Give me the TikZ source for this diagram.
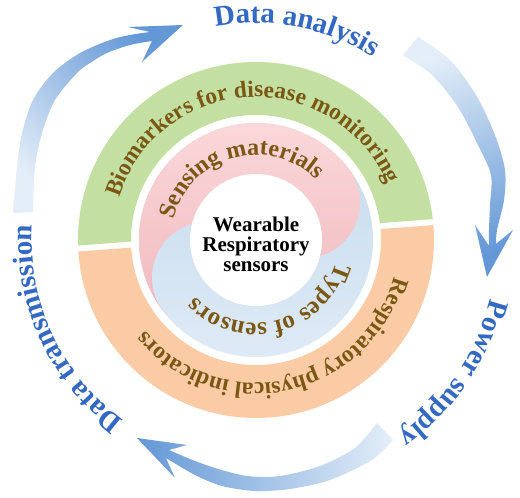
\documentclass[tikz,border=0pt]{standalone}
\usepackage{fontspec}
\setmainfont{Liberation Serif}
\usetikzlibrary{decorations.text}
\definecolor{ringgreen}{HTML}{C4DFA2}
\definecolor{ringorange}{HTML}{FBCBA6}
\definecolor{pinkA}{HTML}{FBDADC}
\definecolor{pinkB}{HTML}{F0BAC0}
\definecolor{blueA}{HTML}{C4DAEE}
\definecolor{blueB}{HTML}{DEEAF6}
\definecolor{labelbrown}{HTML}{7A5814}
\definecolor{labelblue}{HTML}{3469C3}
\definecolor{arrowdark}{HTML}{6397D6}
\definecolor{arrowlight}{HTML}{E4EEF8}
\begin{document}
\begin{tikzpicture}[x=1pt,y=1pt,
  arrowshape/.style={shading=axis, top color=arrowdark, bottom color=arrowlight, draw=none},
  ringtext/.style={decorate, decoration={text along path, text align=center}},
]
\useasboundingbox (0,0) rectangle (520,498);
\fill[white] (0,0) rectangle (520,498);

% ---------- curved arrows ----------
\shade[arrowshape, shading angle=-42] (33,286) -- (13,285) -- plot[smooth] coordinates {(13,285) (17,331) (22,365) (33,398) (53,425) (80,445) (110,458) (130,463) (150,466)} -- (128,471) -- (183,473) -- (142,436) -- (152,457) -- plot[smooth] coordinates {(152,457) (130,453) (107,445) (90,435) (77,425) (55,398) (42,365) (35,331) (33,286)} -- cycle;

\shade[arrowshape, shading angle=-160] (403,443) -- (418,461) -- plot[smooth] coordinates {(418,461) (450,438) (476,403) (495,363) (505,328) (504,298) (497,268) (496,254)} -- (513,268) -- (487,221) -- (475,273) -- (489,252) -- plot[smooth] coordinates {(489,252) (489,268) (490,293) (491,323) (478,353) (458,391) (432,423) (403,443)} -- cycle;

\shade[arrowshape, shading angle=90] (377,75) -- (393,58) -- plot[smooth] coordinates {(393,58) (372,38) (330,18) (290,9) (255,7) (222,12) (195,23) (166,40)} -- (175,20) -- (137,60) -- (187,53) -- (169,48) -- plot[smooth] coordinates {(169,48) (190,39) (215,30) (247,22) (280,22) (320,32) (355,50) (377,75)} -- cycle;

\begin{scope}[shift={(256,258)}]
  % ---------- outer ring ----------
  \begin{scope}
    \clip (-200,-7.16) -- (200,22.56) -- (200,200) -- (-200,200) -- cycle;
    \fill[ringgreen, even odd rule] (0,0) circle[radius=178] (0,0) circle[radius=125];
  \end{scope}
  \begin{scope}
    \clip (-200,-13.16) -- (200,16.56) -- (200,-200) -- (-200,-200) -- cycle;
    \fill[ringorange, even odd rule] (0,0) circle[radius=178] (0,0) circle[radius=125];
  \end{scope}
  % ---------- inner swirl ring ----------
  \shade[top color=blueA, bottom color=blueB] (0,0) circle[radius=117];
  \shade[top color=pinkA, bottom color=pinkB]
    (38:117) arc[start angle=38, end angle=218, radius=117]
    arc[start angle=218, end angle=106.5, radius=56]
    arc[start angle=165.9, end angle=-14.1, radius=66]
    arc[start angle=-73.5, end angle=38, radius=56] -- cycle;
  \fill[white] (0,0) circle[radius=66];

  % ---------- ring texts ----------
  \path[ringtext, decoration={text={|\color{labelbrown}\bfseries\fontsize{23.5}{23.5}\selectfont|Biomarkers for disease monitoring}}]
    (200:143) arc[start angle=200, end angle=-14, radius=143];
  \path[ringtext, decoration={text={|\color{labelbrown}\bfseries\fontsize{23.5}{23.5}\selectfont|Respiratory physical indicators}}]
    (30:143) arc[start angle=30, end angle=-185.5, radius=143];
  \path[ringtext, decoration={text={|\color{labelbrown}\bfseries\fontsize{24}{24}\selectfont|Sensing materials}}]
    (200:85) arc[start angle=200, end angle=11, radius=85];
  \path[ringtext, decoration={text={|\color{labelbrown}\bfseries\fontsize{25}{25}\selectfont|Types of sensors}}]
    (20:83) arc[start angle=20, end angle=-172, radius=83];

  % ---------- outer labels ----------
  \path[ringtext, decoration={text={|\color{labelblue}\bfseries\fontsize{29}{29}\selectfont|Data analysis}}]
    (130:217) arc[start angle=130, end angle=28, radius=217];
  \path[ringtext, decoration={text={|\color{labelblue}\bfseries\fontsize{29}{29}\selectfont|Power supply}}]
    (18:242) arc[start angle=18, end angle=-86, radius=242];
  \path[ringtext, decoration={text={|\color{labelblue}\bfseries\fontsize{29}{29}\selectfont|Data transmission}}]
    (265:224) arc[start angle=265, end angle=145, radius=224];

  % ---------- centre ----------
  \node[font=\bfseries\fontsize{21}{20}\selectfont, align=center, inner sep=0pt] (centre) at (0,-4) {Wearable\\Respiratory\\sensors};
\end{scope}
\end{tikzpicture}
\end{document}
